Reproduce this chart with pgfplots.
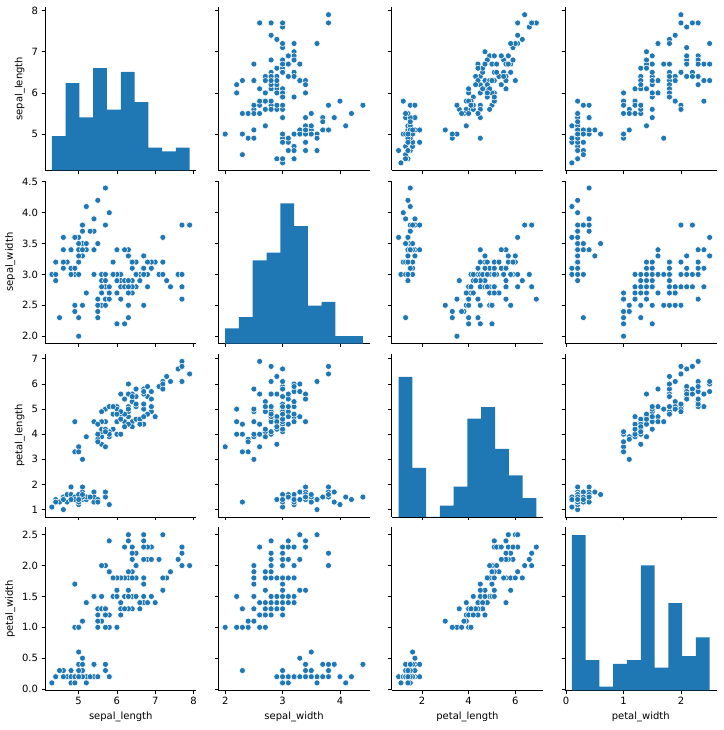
\documentclass[border=0pt]{standalone}
\usepackage{fontspec}
\setmainfont{DejaVu Sans}
\usepackage{pgfplots}
\usepackage{pgfplotstable}
\pgfplotsset{compat=1.18}
\definecolor{sbblue}{HTML}{1F77B4}

% iris: sepal_length sepal_width petal_length petal_width
\pgfplotstableread{
sl sw pl pw
5.1 3.5 1.4 0.2
4.9 3.0 1.4 0.2
4.7 3.2 1.3 0.2
4.6 3.1 1.5 0.2
5.0 3.6 1.4 0.2
5.4 3.9 1.7 0.4
4.6 3.4 1.4 0.3
5.0 3.4 1.5 0.2
4.4 2.9 1.4 0.2
4.9 3.1 1.5 0.1
5.4 3.7 1.5 0.2
4.8 3.4 1.6 0.2
4.8 3.0 1.4 0.1
4.3 3.0 1.1 0.1
5.8 4.0 1.2 0.2
5.7 4.4 1.5 0.4
5.4 3.9 1.3 0.4
5.1 3.5 1.4 0.3
5.7 3.8 1.7 0.3
5.1 3.8 1.5 0.3
5.4 3.4 1.7 0.2
5.1 3.7 1.5 0.4
4.6 3.6 1.0 0.2
5.1 3.3 1.7 0.5
4.8 3.4 1.9 0.2
5.0 3.0 1.6 0.2
5.0 3.4 1.6 0.4
5.2 3.5 1.5 0.2
5.2 3.4 1.4 0.2
4.7 3.2 1.6 0.2
4.8 3.1 1.6 0.2
5.4 3.4 1.5 0.4
5.2 4.1 1.5 0.1
5.5 4.2 1.4 0.2
4.9 3.1 1.5 0.2
5.0 3.2 1.2 0.2
5.5 3.5 1.3 0.2
4.9 3.6 1.4 0.1
4.4 3.0 1.3 0.2
5.1 3.4 1.5 0.2
5.0 3.5 1.3 0.3
4.5 2.3 1.3 0.3
4.4 3.2 1.3 0.2
5.0 3.5 1.6 0.6
5.1 3.8 1.9 0.4
4.8 3.0 1.4 0.3
5.1 3.8 1.6 0.2
4.6 3.2 1.4 0.2
5.3 3.7 1.5 0.2
5.0 3.3 1.4 0.2
7.0 3.2 4.7 1.4
6.4 3.2 4.5 1.5
6.9 3.1 4.9 1.5
5.5 2.3 4.0 1.3
6.5 2.8 4.6 1.5
5.7 2.8 4.5 1.3
6.3 3.3 4.7 1.6
4.9 2.4 3.3 1.0
6.6 2.9 4.6 1.3
5.2 2.7 3.9 1.4
5.0 2.0 3.5 1.0
5.9 3.0 4.2 1.5
6.0 2.2 4.0 1.0
6.1 2.9 4.7 1.4
5.6 2.9 3.6 1.3
6.7 3.1 4.4 1.4
5.6 3.0 4.5 1.5
5.8 2.7 4.1 1.0
6.2 2.2 4.5 1.5
5.6 2.5 3.9 1.1
5.9 3.2 4.8 1.8
6.1 2.8 4.0 1.3
6.3 2.5 4.9 1.5
6.1 2.8 4.7 1.2
6.4 2.9 4.3 1.3
6.6 3.0 4.4 1.4
6.8 2.8 4.8 1.4
6.7 3.0 5.0 1.7
6.0 2.9 4.5 1.5
5.7 2.6 3.5 1.0
5.5 2.4 3.8 1.1
5.5 2.4 3.7 1.0
5.8 2.7 3.9 1.2
6.0 2.7 5.1 1.6
5.4 3.0 4.5 1.5
6.0 3.4 4.5 1.6
6.7 3.1 4.7 1.5
6.3 2.3 4.4 1.3
5.6 3.0 4.1 1.3
5.5 2.5 4.0 1.3
5.5 2.6 4.4 1.2
6.1 3.0 4.6 1.4
5.8 2.6 4.0 1.2
5.0 2.3 3.3 1.0
5.6 2.7 4.2 1.3
5.7 3.0 4.2 1.2
5.7 2.9 4.2 1.3
6.2 2.9 4.3 1.3
5.1 2.5 3.0 1.1
5.7 2.8 4.1 1.3
6.3 3.3 6.0 2.5
5.8 2.7 5.1 1.9
7.1 3.0 5.9 2.1
6.3 2.9 5.6 1.8
6.5 3.0 5.8 2.2
7.6 3.0 6.6 2.1
4.9 2.5 4.5 1.7
7.3 2.9 6.3 1.8
6.7 2.5 5.8 1.8
7.2 3.6 6.1 2.5
6.5 3.2 5.1 2.0
6.4 2.7 5.3 1.9
6.8 3.0 5.5 2.1
5.7 2.5 5.0 2.0
5.8 2.8 5.1 2.4
6.4 3.2 5.3 2.3
6.5 3.0 5.5 1.8
7.7 3.8 6.7 2.2
7.7 2.6 6.9 2.3
6.0 2.2 5.0 1.5
6.9 3.2 5.7 2.3
5.6 2.8 4.9 2.0
7.7 2.8 6.7 2.0
6.3 2.7 4.9 1.8
6.7 3.3 5.7 2.1
7.2 3.2 6.0 1.8
6.2 2.8 4.8 1.8
6.1 3.0 4.9 1.8
6.4 2.8 5.6 2.1
7.2 3.0 5.8 1.6
7.4 2.8 6.1 1.9
7.9 3.8 6.4 2.0
6.4 2.8 5.6 2.2
6.3 2.8 5.1 1.5
6.1 2.6 5.6 1.4
7.7 3.0 6.1 2.3
6.3 3.4 5.6 2.4
6.4 3.1 5.5 1.8
6.0 3.0 4.8 1.8
6.9 3.1 5.4 2.1
6.7 3.1 5.6 2.4
6.9 3.1 5.1 2.3
5.8 2.7 5.1 1.9
6.8 3.2 5.9 2.3
6.7 3.3 5.7 2.5
6.7 3.0 5.2 2.3
6.3 2.5 5.0 1.9
6.5 3.0 5.2 2.0
6.2 3.4 5.4 2.3
5.9 3.0 5.1 1.8
}\iris

\pgfplotsset{
  pp/.style={
    scale only axis, width=151.5pt, height=163pt, anchor=south west,
    axis lines*=left, axis line style={-, line width=0.8pt, black},
    tick align=outside, major tick length=3.5pt,
    tick style={line width=0.8pt, black},
    tick label style={font=\fontsize{10}{12}\selectfont, black,
      /pgf/number format/assume math mode=true},
    label style={font=\fontsize{10}{12}\selectfont, black},
    clip=false,
  },
  dots/.style={only marks, mark=*, mark size=3pt,
    mark options={fill=sbblue, draw=white, line width=0.5pt}},
  xsl/.style={xmin=4.12, xmax=8.08, xtick={5,6,7,8}},
  xsw/.style={xmin=1.88, xmax=4.52, xtick={2,3,4}},
  xpl/.style={xmin=0.705, xmax=7.195, xtick={2,4,6}},
  xpw/.style={xmin=-0.02, xmax=2.62, xtick={0,1,2}},
  ysl/.style={ymin=4.12, ymax=8.08, ytick={5,6,7,8}},
  ysw/.style={ymin=1.88, ymax=4.52, ytick={2.0,2.5,3.0,3.5,4.0,4.5},
    yticklabel style={/pgf/number format/.cd, fixed, fixed zerofill, precision=1}},
  ypl/.style={ymin=0.705, ymax=7.195, ytick={1,2,3,4,5,6,7}},
  ypw/.style={ymin=-0.02, ymax=2.62, ytick={0.0,0.5,1.0,1.5,2.0,2.5},
    yticklabel style={/pgf/number format/.cd, fixed, fixed zerofill, precision=1}},
  nox/.style={xticklabel={\relax}},
  noy/.style={yticklabel={\relax}},
  histax/.style={scale only axis, width=151.5pt, height=163pt, anchor=south west,
    hide axis, ymin=0, ymax=43.05},
  bars/.style={ybar interval, fill=sbblue, draw=none},
}

% scatter panel: x pos, y pos, options, x column, y column
\newcommand{\scat}[5]{%
  \begin{axis}[pp, at={(#1,#2)}, #3]
  \addplot[dots] table[x=#4, y=#5]{\iris};
  \end{axis}}

\begin{document}
\begin{tikzpicture}
\path[use as bounding box] (0pt,0pt) rectangle (723pt,730pt);

% row 1: sepal_length
\begin{axis}[pp, at={(45pt,559.7pt)}, xsl, ysl, nox, ylabel={sepal\_length}]
\end{axis}
\begin{axis}[histax, at={(45pt,559.7pt)}, xmin=4.12, xmax=8.08]
\addplot[bars] coordinates {(4.3,9) (4.66,23) (5.02,14) (5.38,27) (5.74,16)
  (6.1,26) (6.46,18) (6.82,6) (7.18,5) (7.54,6) (7.9,6)};
\end{axis}
\scat{218.3pt}{559.7pt}{xsw, ysl, nox, noy}{sw}{sl}
\scat{391.7pt}{559.7pt}{xpl, ysl, nox, noy}{pl}{sl}
\scat{565pt}{559.7pt}{xpw, ysl, nox, noy}{pw}{sl}

% row 2: sepal_width
\scat{45pt}{386.4pt}{xsl, ysw, nox, ylabel={sepal\_width}}{sl}{sw}
\begin{axis}[pp, at={(218.3pt,386.4pt)}, xsw, ysw, nox, noy]
\end{axis}
\begin{axis}[histax, at={(218.3pt,386.4pt)}, xmin=1.88, xmax=4.52]
\addplot[bars] coordinates {(2.0,4) (2.24,7) (2.48,22) (2.72,24) (2.96,37)
  (3.2,31) (3.44,10) (3.68,11) (3.92,2) (4.16,2) (4.4,2)};
\end{axis}
\scat{391.7pt}{386.4pt}{xpl, ysw, nox, noy}{pl}{sw}
\scat{565pt}{386.4pt}{xpw, ysw, nox, noy}{pw}{sw}

% row 3: petal_length
\scat{45pt}{213pt}{xsl, ypl, nox, ylabel={petal\_length}}{sl}{pl}
\scat{218.3pt}{213pt}{xsw, ypl, nox, noy}{sw}{pl}
\begin{axis}[pp, at={(391.7pt,213pt)}, xpl, ypl, nox, noy]
\end{axis}
\begin{axis}[histax, at={(391.7pt,213pt)}, xmin=0.705, xmax=7.195]
\addplot[bars] coordinates {(1.0,37) (1.59,13) (2.18,0) (2.77,3) (3.36,8)
  (3.95,26) (4.54,29) (5.13,18) (5.72,11) (6.31,5) (6.9,5)};
\end{axis}
\scat{565pt}{213pt}{xpw, ypl, nox, noy}{pw}{pl}

% row 4: petal_width
\scat{45pt}{39.7pt}{xsl, ypw, xlabel={sepal\_length}, ylabel={petal\_width}}{sl}{pw}
\scat{218.3pt}{39.7pt}{xsw, ypw, noy, xlabel={sepal\_width}}{sw}{pw}
\scat{391.7pt}{39.7pt}{xpl, ypw, noy, xlabel={petal\_length}}{pl}{pw}
\begin{axis}[pp, at={(565pt,39.7pt)}, xpw, ypw, noy, xlabel={petal\_width}]
\end{axis}
\begin{axis}[histax, at={(565pt,39.7pt)}, xmin=-0.02, xmax=2.62]
\addplot[bars] coordinates {(0.1,41) (0.34,8) (0.58,1) (0.82,7) (1.06,8)
  (1.3,33) (1.54,6) (1.78,23) (2.02,9) (2.26,14) (2.5,14)};
\end{axis}
\end{tikzpicture}
\end{document}
